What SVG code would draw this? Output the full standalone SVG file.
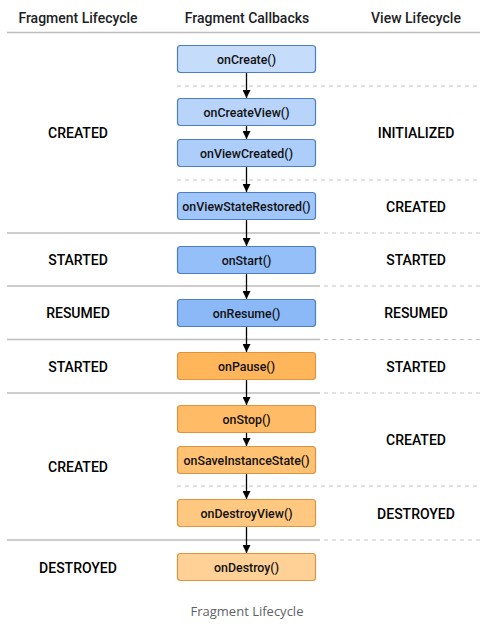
<svg xmlns="http://www.w3.org/2000/svg" width="480" height="630" viewBox="0 0 480 630">
<defs>
<marker id="ah" markerWidth="8" markerHeight="8" refX="8" refY="4" orient="auto" markerUnits="userSpaceOnUse" viewBox="0 0 8 8">
<path d="M0,0 L8,4 L0,8 Z" fill="#000"/>
</marker>
<style>
.hdr{font-family:Roboto,"Liberation Sans",sans-serif;font-size:14px;font-weight:500;fill:#202124;text-anchor:middle}
.st{font-family:Roboto,"Liberation Sans",sans-serif;font-size:14px;font-weight:500;fill:#000;text-anchor:middle;dominant-baseline:central}
.bt{font-family:Roboto,"Liberation Sans",sans-serif;font-size:12.4px;font-weight:500;fill:#111;text-anchor:middle;dominant-baseline:central}
.blue rect{stroke:#4c7ec4;stroke-width:1.2}
.orange rect{stroke:#e0933c;stroke-width:1.2}
.solid{stroke:#bdbdbd;stroke-width:1.5}
.dash{stroke:#c4c4c4;stroke-width:1;stroke-dasharray:4 4}
.arr{stroke:#000;stroke-width:1.3;fill:none;marker-end:url(#ah)}
.cap{font-family:"Open Sans","Noto Sans",sans-serif;font-size:13px;fill:#5f6368;text-anchor:middle}
</style>
</defs>
<rect width="480" height="630" fill="#fff"/>
<g id="headers">
<text class="hdr" x="78" y="23">Fragment Lifecycle</text>
<text class="hdr" x="247" y="23">Fragment Callbacks</text>
<text class="hdr" x="416" y="23">View Lifecycle</text>
<line x1="7" y1="32.5" x2="480" y2="32.5" class="solid"/>
</g>
<g id="dividers">
<line x1="177" y1="86" x2="480" y2="86" class="dash"/>
<line x1="177" y1="180" x2="480" y2="180" class="dash"/>
<line x1="7" y1="233" x2="320" y2="233" class="solid"/>
<line x1="324" y1="233" x2="480" y2="233" class="dash"/>
<line x1="7" y1="286" x2="320" y2="286" class="solid"/>
<line x1="324" y1="286" x2="480" y2="286" class="dash"/>
<line x1="7" y1="339.5" x2="320" y2="339.5" class="solid"/>
<line x1="324" y1="339.5" x2="480" y2="339.5" class="dash"/>
<line x1="7" y1="393" x2="320" y2="393" class="solid"/>
<line x1="324" y1="393" x2="480" y2="393" class="dash"/>
<line x1="177" y1="486" x2="480" y2="486" class="dash"/>
<line x1="7" y1="540" x2="320" y2="540" class="solid"/>
<line x1="324" y1="540" x2="480" y2="540" class="dash"/>
</g>
<g id="fragment-states">
<text class="st" x="78" y="133">CREATED</text>
<text class="st" x="78" y="260">STARTED</text>
<text class="st" x="78" y="313">RESUMED</text>
<text class="st" x="78" y="367">STARTED</text>
<text class="st" x="78" y="467">CREATED</text>
<text class="st" x="78" y="568">DESTROYED</text>
</g>
<g id="view-states">
<text class="st" x="416" y="133">INITIALIZED</text>
<text class="st" x="416" y="207">CREATED</text>
<text class="st" x="416" y="260">STARTED</text>
<text class="st" x="416" y="313">RESUMED</text>
<text class="st" x="416" y="367">STARTED</text>
<text class="st" x="416" y="440">CREATED</text>
<text class="st" x="416" y="514">DESTROYED</text>
</g>
<g id="connectors">
<line class="arr" x1="246.5" y1="72" x2="246.5" y2="98"/>
<line class="arr" x1="246.5" y1="125" x2="246.5" y2="139"/>
<line class="arr" x1="246.5" y1="166" x2="246.5" y2="192"/>
<line class="arr" x1="246.5" y1="219" x2="246.5" y2="246"/>
<line class="arr" x1="246.5" y1="273" x2="246.5" y2="299"/>
<line class="arr" x1="246.5" y1="326" x2="246.5" y2="352"/>
<line class="arr" x1="246.5" y1="379" x2="246.5" y2="405"/>
<line class="arr" x1="246.5" y1="432" x2="246.5" y2="446"/>
<line class="arr" x1="246.5" y1="473" x2="246.5" y2="499"/>
<line class="arr" x1="246.5" y1="526" x2="246.5" y2="553"/>
</g>
<g id="onCreate" class="blue"><rect x="177.5" y="45.5" width="138" height="27" rx="3" fill="#c6dcfb"/><text class="bt" x="246.5" y="59.5">onCreate()</text></g>
<g id="onCreateView" class="blue"><rect x="177.5" y="98.5" width="138" height="27" rx="3" fill="#b8d4fb"/><text class="bt" x="246.5" y="112.5">onCreateView()</text></g>
<g id="onViewCreated" class="blue"><rect x="177.5" y="139.5" width="138" height="27" rx="3" fill="#adcdfa"/><text class="bt" x="246.5" y="153.5">onViewCreated()</text></g>
<g id="onViewStateRestored" class="blue"><rect x="177.5" y="192.5" width="138" height="27" rx="3" fill="#a1c6fa"/><text class="bt" x="246.5" y="206.5">onViewStateRestored()</text></g>
<g id="onStart" class="blue"><rect x="177.5" y="246.5" width="138" height="27" rx="3" fill="#95bff9"/><text class="bt" x="246.5" y="260.5">onStart()</text></g>
<g id="onResume" class="blue"><rect x="177.5" y="299.5" width="138" height="27" rx="3" fill="#8bb9f8"/><text class="bt" x="246.5" y="313.5">onResume()</text></g>
<g id="onPause" class="orange"><rect x="177.5" y="352.5" width="138" height="27" rx="3" fill="#ffb55a"/><text class="bt" x="246.5" y="366.5">onPause()</text></g>
<g id="onStop" class="orange"><rect x="177.5" y="405.5" width="138" height="27" rx="3" fill="#ffbb66"/><text class="bt" x="246.5" y="419.5">onStop()</text></g>
<g id="onSaveInstanceState" class="orange"><rect x="177.5" y="446.5" width="138" height="27" rx="3" fill="#ffc172"/><text class="bt" x="246.5" y="460.5">onSaveInstanceState()</text></g>
<g id="onDestroyView" class="orange"><rect x="177.5" y="499.5" width="138" height="27" rx="3" fill="#ffc880"/><text class="bt" x="246.5" y="513.5">onDestroyView()</text></g>
<g id="onDestroy" class="orange"><rect x="177.5" y="553.5" width="138" height="27" rx="3" fill="#ffd196"/><text class="bt" x="246.5" y="567.5">onDestroy()</text></g>
<text class="cap" x="247" y="616">Fragment Lifecycle</text>
</svg>
